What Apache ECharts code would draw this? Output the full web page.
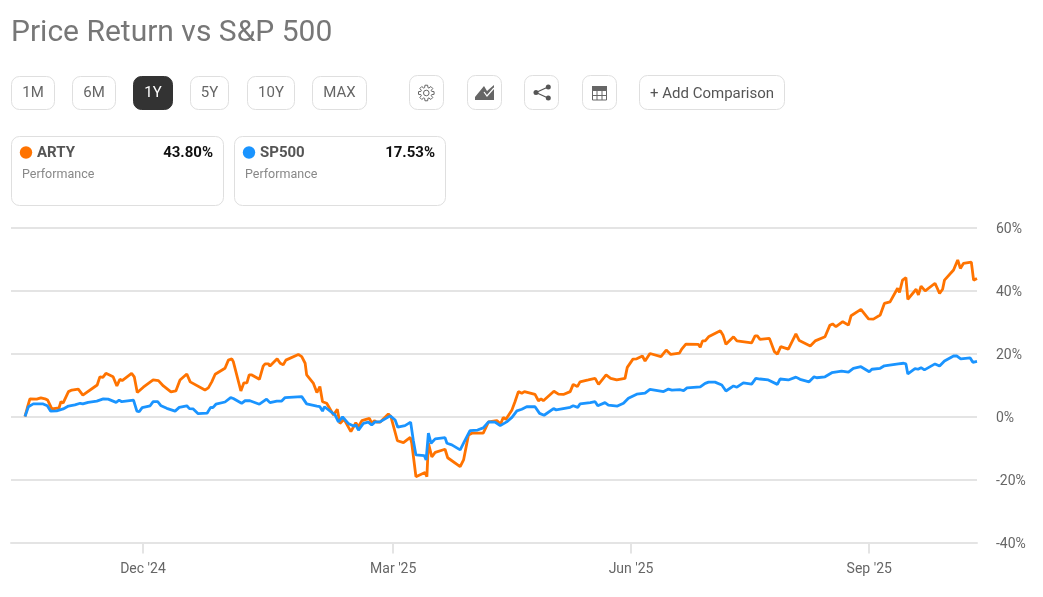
<!DOCTYPE html>
<html>
<head>
<meta charset="utf-8">
<script src="https://cdn.jsdelivr.net/npm/echarts@6/dist/echarts.min.js"></script>
<style>html,body{margin:0;padding:0;background:#fff}#c{width:1043px;height:597px}</style>
</head>
<body>
<div id="c"></div>
<script>
const titleText = 'Price Return vs S&P 500';
const rangeLabels = ['1M', '6M', '1Y', '5Y', '10Y', 'MAX'];
const tickSessions = [31.2, 97.4, 160.3, 223.3];
const tickLabels = ["Dec '24", "Mar '25", "Jun '25", "Sep '25"];
const artyName = 'ARTY';
const spName = 'SP500';
const artyLast = '43.80%';
const spLast = '17.53%';

const artyDay = [0,0.6,1.3,3.1,4.2,5.3,6,7.1,9,9.5,10.1,11.5,12.4,14.1,15.3,19.1,19.8,20.6,21.4,23.3,24.3,25.1,25.7,28.2,28.9,29.7,31.3,33.9,35.3,36.6,38.6,39.9,41,42.8,43.7,47.6,48.5,49.4,50.3,52.9,53.8,54.7,55.1,57.1,57.9,58.7,59.3,60,62,63,63.5,64.4,64.8,66.7,67.5,68.3,69,72.3,73.2,74.1,74.5,76.3,77.2,78,78.7,79.8,81.6,82.6,83.3,84.4,86.2,87.5,88.2,89.1,91.1,91.7,92.4,93,93.9,96.1,96.8,98.5,100.1,101.9,102.3,103.4,105.8,106.3,106.7,107.6,108.5,111.1,111.8,115.1,116,117.3,118.2,121.2,122.6,124.8,125.8,126.5,127.2,128.8,129.6,130.5,131.4,132.1,134.9,135.8,136.5,137.1,139.9,141.1,142.4,144.2,145,146.1,146.8,149,150.8,151.7,153.7,154.9,156.5,158.7,159.3,160.8,161.8,163.3,164,165.3,168.2,169.6,170.8,173.1,173.7,174.8,178.1,178.6,179.2,179.9,180.8,183.9,184.6,185.4,187.4,188.3,192.2,193.1,193.7,194.4,196.9,198.2,199,199.9,201.9,203.9,204.8,207.7,209,211.6,212.9,213.6,214.5,216.3,217.8,218.5,221.1,223.1,224.4,226.2,227.3,228.8,230.8,231.3,232.1,233,233.5,235.7,236.3,237,238.1,240.7,241.9,242.7,243.2,245.6,246,246.7,247.4,248.2,250.3,250.9,251.8];
const artyPct = [0,2.7,5.6,5.5,5.9,5.6,5.2,2.4,2.7,4.7,4.3,7.9,8.4,8.7,6.8,10,12.6,12.4,13.7,12.6,9.7,11.8,11.4,13.7,12.6,7.6,9.3,11.6,11.4,9.7,7.8,8.1,11.6,13.5,11,8.4,9.1,11,13.4,15.3,17.9,18.3,17.4,8.1,10.7,10.7,13.2,13.2,11.8,16,16.7,16.7,16,18.3,16.9,16.4,17.9,19.7,19,16.9,13.2,10.5,7.6,9.5,4.7,4.2,0.5,2.3,-2.2,-0.9,-4.8,-2,-3.2,-1.3,-0.6,-2.2,-1.3,-1.8,-1.8,0.8,-0.1,-7.7,-8.3,-6.6,-8.5,-19.1,-17.8,-19.1,-8.4,-12.8,-11.4,-10.4,-13.1,-15.9,-13.8,-5.9,-5.3,-5.3,-1.7,-1.3,-2.4,-0.3,-0.9,2.1,4.7,7.9,7.4,7.9,7,5,5.6,5,8,7.1,7,7.9,10.2,9.5,11,11.6,12.1,10.2,13.2,12.1,11.6,12.1,15.6,18.2,18.3,19.2,17.6,20,19,21.1,19.7,20.1,21.4,23,22.9,22,24,24,25.3,27.2,25.9,22.9,25.3,24,23.4,25.6,25.6,24.5,24.8,20.6,19.8,22.2,21.4,26.2,24.1,22.4,24,25.3,29,29.4,28.5,30.1,29,32,34,31,30.9,32.2,35.9,36.4,40.7,39.4,43.3,44.1,37.2,40.4,38.6,41.4,39.9,42.3,39.1,40.4,43.3,46.5,46.7,49.7,47,48.6,49,43.3,43.8];

const spDay = [0,0.9,2.2,4.8,5.9,6.8,8.4,10.1,11.5,13.2,14.6,15.3,16.7,19,20.7,22,24.1,24.9,25.6,28.7,29.6,30.2,31,33.1,33.9,35.1,36,37.5,39.7,40.8,42.8,43.5,44.5,45.8,48.2,49.1,49.7,50.5,52.9,54.4,55.1,57.3,58.2,58.7,59.5,62,63.9,64.8,66.6,67.9,68.8,73.2,74.5,77.2,78,78.7,79.2,82,82.9,84,85.5,86.9,87.5,88.2,89.5,90.8,91.7,92.6,93.9,96.6,97.9,98.6,100.5,102,102.7,103.4,105.6,106.1,106.7,107.4,108.5,111.1,111.6,112.9,115.1,116.4,117.7,119.7,121.2,122.6,124.3,125.7,127.4,128.8,130.1,131.4,132.7,134.9,136.1,137.3,139.8,140.5,144.2,145,146.2,146.8,149.5,150.8,151.5,153.4,154.3,156.7,158.3,159.6,161.8,164,165.3,168.9,170.2,171.1,173.3,174.2,175.1,178.6,179.9,180.8,182.5,184.3,185.4,187.4,188.3,190,192.2,193.3,194.4,196.6,199,199.7,201.9,203.9,205,207.4,208.7,209.4,211.6,213.4,216,217.8,219.1,221.1,223.3,224,226.2,227.3,231,231.5,232.4,233,233.5,235.4,236.2,237,237.9,240.7,241.9,243.2,245.6,246.5,247.5,250,250.7,251.8];
const spPct = [0,3.1,4,4,3.4,1.7,1.8,2.4,3.3,3.7,4.2,4,4.5,4.9,5.6,5.5,4.5,5.2,4.7,5.2,1.7,1.5,2.8,3.4,4.7,4.7,3.4,2.6,1.7,2.9,3.4,2.5,2.4,0.9,1.1,2.9,2.8,3.9,4.6,6,5.7,4.2,5,4.6,5,3.9,5.5,4.4,4.9,4.9,6,6.3,4,3.3,3.1,1.7,3.1,0.5,-1.7,-0.1,-2.2,-3,-2.7,-4.3,-2.2,-1.8,-2.7,-1.7,-1.7,0.2,-1.1,-3.4,-2.9,-1.8,-7.5,-12.2,-12.4,-13.8,-5.3,-8.5,-7.1,-6.7,-8.5,-9,-10.6,-7.5,-4.5,-4.3,-3.6,-1.7,-1.8,-2.9,-1.7,-0.3,1.8,2.3,3.1,3.1,1,0.4,2.5,2.1,2.9,3.4,2.9,4,4.4,4.7,3.4,4.4,3.6,3.3,4.2,5.8,7.1,7.4,8.6,7.9,8.7,8.4,8.5,8.2,9.1,9.4,10.5,10.9,10.9,10,8.1,9.7,9.3,10.7,10.3,12.1,11.9,11.6,10.2,11.9,11.6,12.5,11.8,11,12.6,12.3,12.6,13.9,14.4,14.1,15.3,15.8,14.2,15,15.3,16.1,16.7,16.3,16.9,16.7,13.5,15.2,15,15.5,14.8,16.7,16,17.6,19.2,19.2,18.3,18.6,17.2,17.5];

const FONT = 'Roboto, sans-serif';
const BORDER = '#dfdfdf';
const ARTY_COLOR = '#ff7300';
const SP_COLOR = '#1a94ff';
const rangeBoxes = [[11,44],[72,44],[133,40],[190,39],[247,48],[312,55]];
const iconBoxes = [409,467,524,582];

function box(x, y, w, h, fill, stroke) {
  return {type:'rect', silent:true, shape:{x:x+0.5, y:y+0.5, width:w-1, height:h-1, r:8}, style:{fill:fill||'#fff', stroke:stroke||BORDER, lineWidth:1}};
}
function label(text, x, y, size, color, opts) {
  return {type:'text', silent:true, x:x, y:y, style:{text:text, fill:color, font:(opts&&opts.weight||'400')+' '+size+'px '+FONT, textAlign:opts&&opts.align||'left', textVerticalAlign:'middle'}};
}
function gearOutline(cx, cy) {
  const pts = [];
  for (let i = 0; i < 8; i++) {
    const a = i * Math.PI / 4 - Math.PI / 2;
    [[-0.30,5.6],[-0.17,7.9],[0.17,7.9],[0.30,5.6]].forEach(p => {
      pts.push([cx + p[1] * Math.cos(a + p[0]), cy + p[1] * Math.sin(a + p[0])]);
    });
  }
  return pts;
}

const g = [];
g.push(label(titleText, 11, 33.5, 30, '#777777'));
rangeLabels.forEach((t,i)=>{
  const [x,w] = rangeBoxes[i];
  const on = t==='1Y';
  g.push(box(x,76,w,34,on?'#333333':'#fff',on?'#333333':BORDER));
  g.push(label(t, x+w/2, 93.5, 15, on?'#ffffff':'#666666', {align:'center'}));
});
iconBoxes.forEach(x=>g.push(box(x,75,35,35)));
g.push(box(639,75,146,35));
g.push(label('+ Add Comparison', 650, 94.5, 15, '#555555'));
// gear
g.push({type:'polygon', silent:true, shape:{points:gearOutline(426.3,93)}, style:{fill:'none', stroke:'#666', lineWidth:1}});
g.push({type:'circle', silent:true, shape:{cx:426.3, cy:93, r:2.8}, style:{fill:'none', stroke:'#666', lineWidth:1}});
// chart icon
g.push({type:'polygon', silent:true, shape:{points:[[475,100],[475,97],[484,86],[487,91],[494,85],[494,100]]}, style:{fill:'#666'}});
g.push({type:'polyline', silent:true, shape:{points:[[484,92],[487,96],[494,88]]}, style:{stroke:'#fff', fill:'none', lineWidth:1.2}});
// share icon
g.push({type:'polyline', silent:true, shape:{points:[[548,87],[536,92.5],[548,98]]}, style:{stroke:'#555', fill:'none', lineWidth:1.2}});
[[536,92.5],[548.3,87],[548.3,98]].forEach(c=>g.push({type:'circle', silent:true, shape:{cx:c[0], cy:c[1], r:2.5}, style:{fill:'#555'}}));
// table icon
g.push({type:'rect', silent:true, shape:{x:592,y:86,width:15,height:5}, style:{fill:'#666'}});
g.push({type:'rect', silent:true, shape:{x:592.5,y:90.5,width:14,height:9.5}, style:{fill:'#fff',stroke:'#666',lineWidth:1}});
g.push({type:'polyline', silent:true, shape:{points:[[597,91],[597,100]]}, style:{stroke:'#666',lineWidth:1}});
g.push({type:'polyline', silent:true, shape:{points:[[602,91],[602,100]]}, style:{stroke:'#666',lineWidth:1}});
g.push({type:'polyline', silent:true, shape:{points:[[592,95.5],[607,95.5]]}, style:{stroke:'#666',lineWidth:1}});
// cards
[[11,213,ARTY_COLOR,artyName,artyLast],[234,212,SP_COLOR,spName,spLast]].forEach(c=>{
  const [x,w,col,n,v] = c;
  g.push(box(x,136,w,70));
  g.push({type:'circle', silent:true, shape:{cx:x+15, cy:152.5, r:6.2}, style:{fill:col}});
  g.push(label(n, x+26, 153.5, 15, '#555555', {weight:'700'}));
  g.push(label(v, x+w-11, 153.5, 15, '#111111', {weight:'700', align:'right'}));
  g.push(label('Performance', x+11, 175, 12.5, '#888888'));
});

const chart = echarts.init(document.getElementById('c'), null, {renderer:'canvas'});
chart.setOption({
  animation:false,
  backgroundColor:'#fff',
  graphic:{elements:g},
  grid:{left:11, right:66, top:227.5, bottom:54.5, containLabel:false},
  xAxis:{
    type:'value', min:-3.7, max:251.8, splitLine:{show:false},
    axisLine:{show:true, onZero:false, lineStyle:{color:'#e4e4e4', width:2}},
    axisTick:{show:true, length:11, lineStyle:{color:'#e4e4e4', width:2}, customValues:tickSessions},
    axisLabel:{color:'#666666', fontFamily:FONT, fontSize:14, margin:20, customValues:tickSessions,
      formatter:v=>tickLabels[tickSessions.indexOf(v)]}
  },
  yAxis:{
    type:'value', position:'right', min:-40, max:60, interval:20,
    axisLine:{show:false}, axisTick:{show:false},
    splitLine:{lineStyle:{color:'#e4e4e4', width:2}},
    axisLabel:{color:'#666666', fontFamily:FONT, fontSize:14, margin:19, align:'left', verticalAlign:'top', lineHeight:4, formatter:'{value}%'}
  },
  series:[
    {name:artyName, type:'line', showSymbol:false, smooth:false, data:artyDay.map((d,i)=>[d,artyPct[i]]), lineStyle:{color:ARTY_COLOR, width:2.8}, itemStyle:{color:ARTY_COLOR}},
    {name:spName, type:'line', showSymbol:false, smooth:false, data:spDay.map((d,i)=>[d,spPct[i]]), lineStyle:{color:SP_COLOR, width:2.8}, itemStyle:{color:SP_COLOR}}
  ]
});
</script>
</body>
</html>
